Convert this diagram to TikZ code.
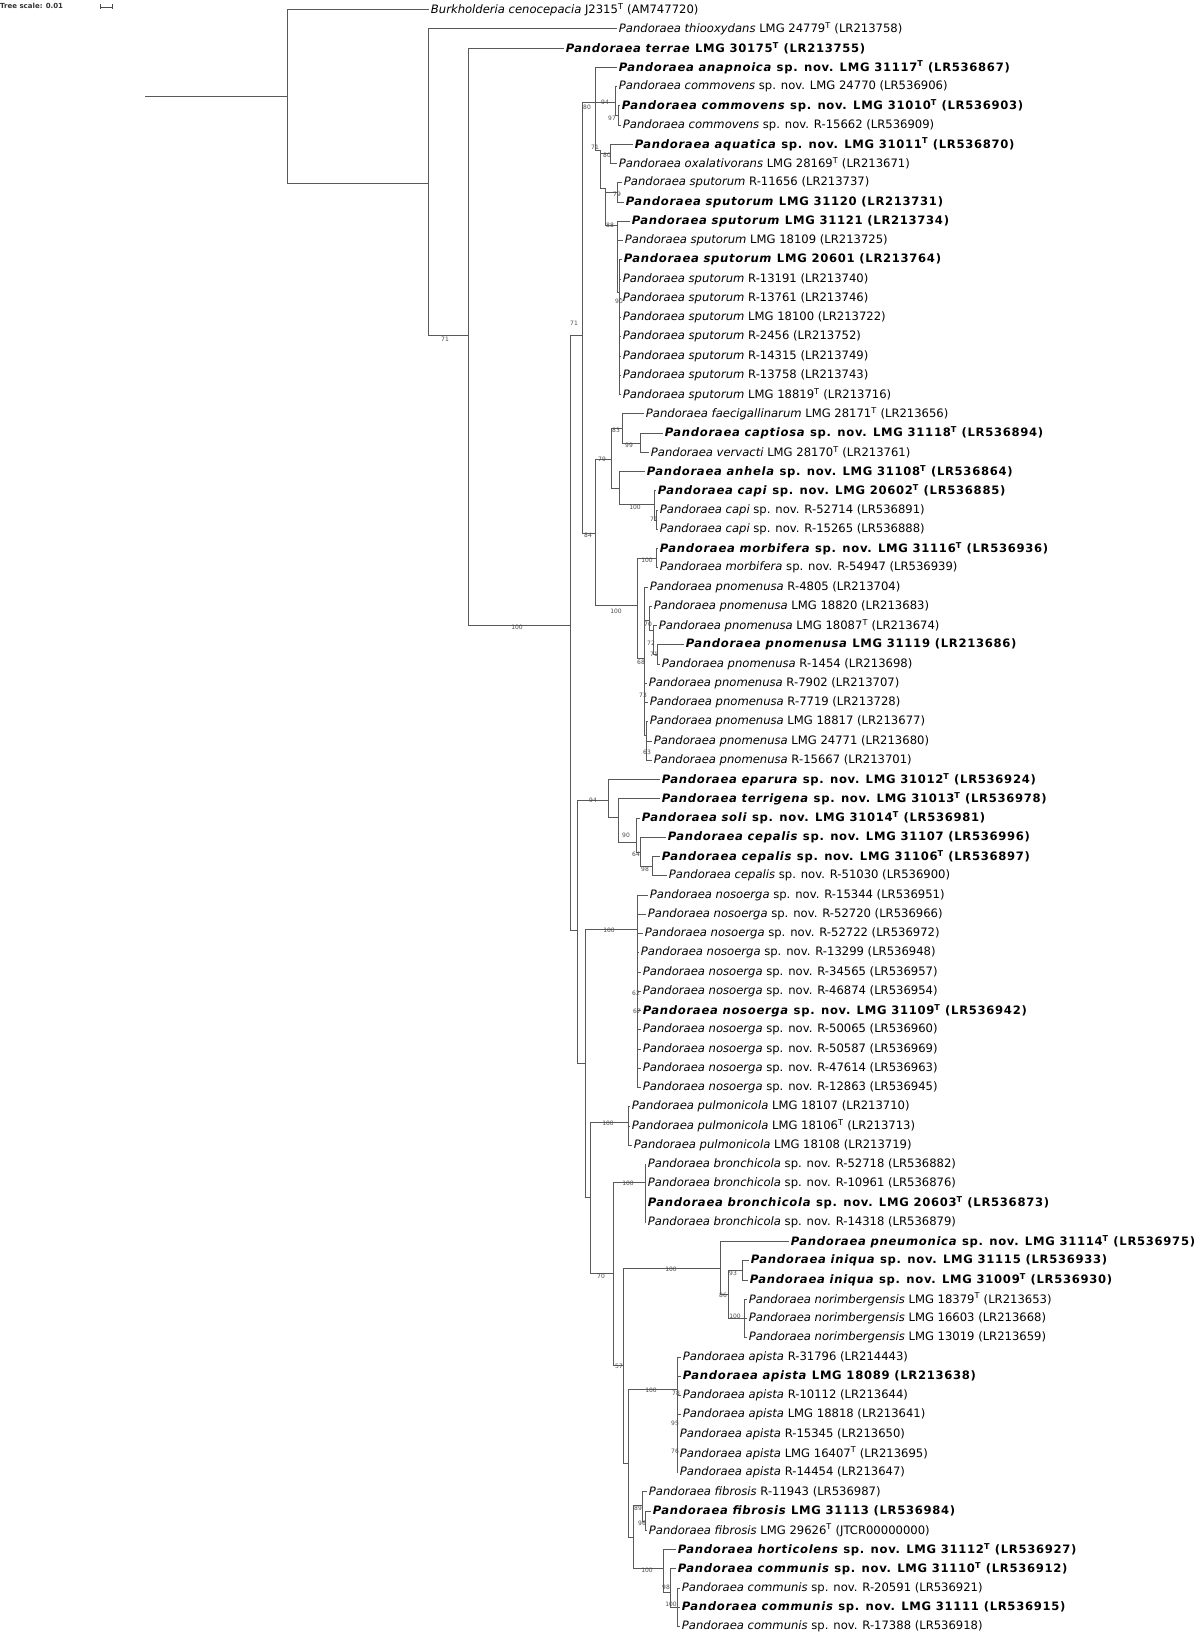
\documentclass[tikz,border=0pt]{standalone}
\usepackage{fontspec}
\setmainfont{DejaVu Sans}
\newfontfamily\bfam[LetterSpace=6]{DejaVu Sans}
\newcommand\Pn[1]{\textit{Pandoraea #1}}
\newcommand\Tt{\textsuperscript{T}}
\newcommand\BB{\bfam\bfseries}
\tikzset{br/.style={draw=black!65,line width=0.9pt},
 leaf/.style={anchor=west,inner xsep=1.5pt,inner ysep=0pt,font=\fontsize{11.6}{13}\selectfont},
 bsl/.style={inner sep=0pt,text=black!70,font=\fontsize{6}{7}\selectfont}}
\newcommand\lf[5]{\draw[br] (#3,{9.5+(#2-1)*19.25}) -- (#4,{9.5+(#2-1)*19.25}) node[leaf] (#1) {#5};}
\newcommand\nd[5]{\draw[br] (#5,#2) -- (#1,#2); \draw[br] (#1,#3) -- (#1,#4);}
\newcommand\bs[4]{\node[bsl] (#1) at (#2,#3) {#4};}
\begin{document}
\begin{tikzpicture}[x=1pt,y=-1pt]
\useasboundingbox[fill=white] (0,0) rectangle (1200,1635);
\node[anchor=west,inner sep=0pt,font=\fontsize{7}{8}\selectfont\bfseries,text=black!80] (ts) at (0,6) {Tree scale: 0.01};
\draw[black!70,line width=0.5pt] (100,7) -- (112,7) (100,4.5) -- (100,9.5) (112,4.5) -- (112,9.5);
% root
\draw[br] (145,96) -- (287,96);
\draw[br] (287,9.5) -- (287,183);
\lf{l1}{1}{287}{429}{\textit{Burkholderia cenocepacia} J2315\Tt{} (AM747720)}
\nd{428}{183}{28.75}{335}{287}
\lf{l2}{2}{428}{617}{\Pn{thiooxydans} LMG 24779\Tt{} (LR213758)}
\nd{468}{335}{48}{625}{428}
\lf{l3}{3}{468}{564}{\BB\Pn{terrae} LMG 30175\Tt{} (LR213755)}
\nd{570}{625}{335}{930}{468}
\nd{582}{335}{102}{533}{570}
\nd{595}{102}{67.25}{150}{582}
\lf{l4}{4}{595}{617}{\BB\Pn{anapnoica} sp. nov. LMG 31117\Tt{} (LR536867)}
\nd{615}{102}{86.5}{115.4}{595}
\lf{l5}{5}{615}{617}{\Pn{commovens} sp. nov. LMG 24770 (LR536906)}
\nd{618}{115.4}{105.75}{125}{615}
\lf{l6}{6}{618}{620}{\BB\Pn{commovens} sp. nov. LMG 31010\Tt{} (LR536903)}
\lf{l7}{7}{618}{621}{\Pn{commovens} sp. nov. R-15662 (LR536909)}
\nd{600}{150}{150}{188}{595}
\nd{610}{153}{144.25}{163.5}{600}
\lf{l8}{8}{610}{633}{\BB\Pn{aquatica} sp. nov. LMG 31011\Tt{} (LR536870)}
\lf{l9}{9}{610}{617}{\Pn{oxalativorans} LMG 28169\Tt{} (LR213671)}
\nd{605}{188}{188}{225}{600}
\nd{617}{192}{182.75}{202}{605}
\lf{l10}{10}{617}{622}{\Pn{sputorum} R-11656 (LR213737)}
\lf{l11}{11}{617}{624}{\BB\Pn{sputorum} LMG 31120 (LR213731)}
\nd{617}{225}{221.25}{292}{605}
\lf{l12}{12}{617}{630}{\BB\Pn{sputorum} LMG 31121 (LR213734)}
\lf{l13}{13}{617}{623}{\Pn{sputorum} LMG 18109 (LR213725)}
\nd{619}{292}{259.75}{394.5}{617}
\lf{l14}{14}{619}{622}{\BB\Pn{sputorum} LMG 20601 (LR213764)}
\lf{l15}{15}{619}{621}{\Pn{sputorum} R-13191 (LR213740)}
\lf{l16}{16}{619}{621}{\Pn{sputorum} R-13761 (LR213746)}
\lf{l17}{17}{619}{621}{\Pn{sputorum} LMG 18100 (LR213722)}
\lf{l18}{18}{619}{621}{\Pn{sputorum} R-2456 (LR213752)}
\lf{l19}{19}{619}{621}{\Pn{sputorum} R-14315 (LR213749)}
\lf{l20}{20}{619}{621}{\Pn{sputorum} R-13758 (LR213743)}
\lf{l21}{21}{619}{621}{\Pn{sputorum} LMG 18819\Tt{} (LR213716)}
\nd{595}{533}{459}{605}{582}
\nd{611}{459}{428}{488}{595}
\nd{622}{428}{413.75}{443}{611}
\lf{l22}{22}{622}{644}{\Pn{faecigallinarum} LMG 28171\Tt{} (LR213656)}
\nd{640}{443}{433}{452.25}{622}
\lf{l23}{23}{640}{663}{\BB\Pn{captiosa} sp. nov. LMG 31118\Tt{} (LR536894)}
\lf{l24}{24}{640}{649}{\Pn{vervacti} LMG 28170\Tt{} (LR213761)}
\nd{619}{488}{471.5}{504}{611}
\lf{l25}{25}{619}{645}{\BB\Pn{anhela} sp. nov. LMG 31108\Tt{} (LR536864)}
\nd{654}{504}{490.75}{520}{619}
\lf{l26}{26}{654}{656}{\BB\Pn{capi} sp. nov. LMG 20602\Tt{} (LR536885)}
\nd{656}{520}{510}{529.25}{654}
\lf{l27}{27}{656}{658}{\Pn{capi} sp. nov. R-52714 (LR536891)}
\lf{l28}{28}{656}{658}{\Pn{capi} sp. nov. R-15265 (LR536888)}
\nd{637}{605}{558}{658}{595}
\nd{656}{558}{548.5}{567.75}{637}
\lf{l29}{29}{656}{658}{\BB\Pn{morbifera} sp. nov. LMG 31116\Tt{} (LR536936)}
\lf{l30}{30}{656}{658}{\Pn{morbifera} sp. nov. R-54947 (LR536939)}
\nd{644}{658}{587}{735}{637}
\lf{l31}{31}{644}{648}{\Pn{pnomenusa} R-4805 (LR213704)}
\nd{649}{620}{606.25}{630}{644}
\lf{l32}{32}{649}{652}{\Pn{pnomenusa} LMG 18820 (LR213683)}
\nd{653}{630}{625.5}{654}{649}
\lf{l33}{33}{653}{657}{\Pn{pnomenusa} LMG 18087\Tt{} (LR213674)}
\nd{657}{654}{644.75}{664}{653}
\lf{l34}{34}{657}{684}{\BB\Pn{pnomenusa} LMG 31119 (LR213686)}
\lf{l35}{35}{657}{660}{\Pn{pnomenusa} R-1454 (LR213698)}
\lf{l36}{36}{644}{647}{\Pn{pnomenusa} R-7902 (LR213707)}
\lf{l37}{37}{644}{648}{\Pn{pnomenusa} R-7719 (LR213728)}
\nd{646}{735}{721.75}{760.25}{644}
\lf{l38}{38}{646}{648}{\Pn{pnomenusa} LMG 18817 (LR213677)}
\lf{l39}{39}{646}{652}{\Pn{pnomenusa} LMG 24771 (LR213680)}
\lf{l40}{40}{646}{652}{\Pn{pnomenusa} R-15667 (LR213701)}
\nd{577}{930}{800}{1063}{570}
\nd{608}{800}{779.5}{817}{577}
\lf{l41}{41}{608}{660}{\BB\Pn{eparura} sp. nov. LMG 31012\Tt{} (LR536924)}
\nd{618}{817}{798.75}{842}{608}
\lf{l42}{42}{618}{660}{\BB\Pn{terrigena} sp. nov. LMG 31013\Tt{} (LR536978)}
\nd{636}{842}{818}{852}{618}
\lf{l43}{43}{636}{640}{\BB\Pn{soli} sp. nov. LMG 31014\Tt{} (LR536981)}
\nd{640}{852}{837.25}{866}{636}
\lf{l44}{44}{640}{666}{\BB\Pn{cepalis} sp. nov. LMG 31107 (LR536996)}
\nd{652}{866}{856.5}{875.75}{640}
\lf{l45}{45}{652}{660}{\BB\Pn{cepalis} sp. nov. LMG 31106\Tt{} (LR536897)}
\lf{l46}{46}{652}{667}{\Pn{cepalis} sp. nov. R-51030 (LR536900)}
\nd{585}{1063}{929}{1197}{577}
\nd{637}{929}{895}{1087.5}{585}
\lf{l47}{47}{637}{648}{\Pn{nosoerga} sp. nov. R-15344 (LR536951)}
\lf{l48}{48}{637}{646}{\Pn{nosoerga} sp. nov. R-52720 (LR536966)}
\lf{l49}{49}{637}{643}{\Pn{nosoerga} sp. nov. R-52722 (LR536972)}
\lf{l50}{50}{637}{639}{\Pn{nosoerga} sp. nov. R-13299 (LR536948)}
\lf{l51}{51}{637}{641}{\Pn{nosoerga} sp. nov. R-34565 (LR536957)}
\lf{l52}{52}{637}{641}{\Pn{nosoerga} sp. nov. R-46874 (LR536954)}
\lf{l53}{53}{637}{641}{\BB\Pn{nosoerga} sp. nov. LMG 31109\Tt{} (LR536942)}
\lf{l54}{54}{637}{641}{\Pn{nosoerga} sp. nov. R-50065 (LR536960)}
\lf{l55}{55}{637}{641}{\Pn{nosoerga} sp. nov. R-50587 (LR536969)}
\lf{l56}{56}{637}{641}{\Pn{nosoerga} sp. nov. R-47614 (LR536963)}
\lf{l57}{57}{637}{641}{\Pn{nosoerga} sp. nov. R-12863 (LR536945)}
\nd{590}{1197}{1122}{1273}{585}
\nd{628}{1122}{1106.75}{1145.25}{590}
\lf{l58}{58}{628}{630}{\Pn{pulmonicola} LMG 18107 (LR213710)}
\lf{l59}{59}{628}{630}{\Pn{pulmonicola} LMG 18106\Tt{} (LR213713)}
\lf{l60}{60}{628}{632}{\Pn{pulmonicola} LMG 18108 (LR213719)}
\nd{613}{1273}{1182}{1365}{590}
\nd{645}{1182}{1164.5}{1222.25}{613}
\lf{l61}{61}{645}{646}{\Pn{bronchicola} sp. nov. R-52718 (LR536882)}
\lf{l62}{62}{645}{646}{\Pn{bronchicola} sp. nov. R-10961 (LR536876)}
\lf{l63}{63}{645}{646}{\BB\Pn{bronchicola} sp. nov. LMG 20603\Tt{} (LR536873)}
\lf{l64}{64}{645}{646}{\Pn{bronchicola} sp. nov. R-14318 (LR536879)}
\nd{623}{1365}{1268}{1463}{613}
\nd{720}{1268}{1241.5}{1294}{623}
\lf{l65}{65}{720}{789}{\BB\Pn{pneumonica} sp. nov. LMG 31114\Tt{} (LR536975)}
\nd{728}{1294}{1270}{1318.5}{720}
\nd{742}{1270}{1260.75}{1280}{728}
\lf{l66}{66}{742}{749}{\BB\Pn{iniqua} sp. nov. LMG 31115 (LR536933)}
\lf{l67}{67}{742}{748}{\BB\Pn{iniqua} sp. nov. LMG 31009\Tt{} (LR536930)}
\nd{744}{1318.5}{1299.25}{1337.75}{728}
\lf{l68}{68}{744}{747}{\Pn{norimbergensis} LMG 18379\Tt{} (LR213653)}
\lf{l69}{69}{744}{747}{\Pn{norimbergensis} LMG 16603 (LR213668)}
\lf{l70}{70}{744}{747}{\Pn{norimbergensis} LMG 13019 (LR213659)}
\nd{628}{1463}{1389}{1537}{623}
\nd{677}{1389}{1357}{1472.5}{628}
\lf{l71}{71}{677}{681}{\Pn{apista} R-31796 (LR214443)}
\lf{l72}{72}{677}{681}{\BB\Pn{apista} LMG 18089 (LR213638)}
\lf{l73}{73}{677}{681}{\Pn{apista} R-10112 (LR213644)}
\lf{l74}{74}{677}{681}{\Pn{apista} LMG 18818 (LR213641)}
\lf{l75}{75}{677}{678}{\Pn{apista} R-15345 (LR213650)}
\lf{l76}{76}{677}{678}{\Pn{apista} LMG 16407\Tt{} (LR213695)}
\lf{l77}{77}{677}{678}{\Pn{apista} R-14454 (LR213647)}
\nd{633}{1537}{1505}{1568}{628}
\nd{642}{1505}{1491.75}{1521}{633}
\lf{l78}{78}{642}{647}{\Pn{fibrosis} R-11943 (LR536987)}
\nd{645}{1521}{1511}{1530.25}{642}
\lf{l79}{79}{645}{651}{\BB\Pn{fibrosis} LMG 31113 (LR536984)}
\lf{l80}{80}{645}{647}{\Pn{fibrosis} LMG 29626\Tt{} (JTCR00000000)}
\nd{663}{1568}{1549.5}{1592}{633}
\lf{l81}{81}{663}{676}{\BB\Pn{horticolens} sp. nov. LMG 31112\Tt{} (LR536927)}
\nd{670}{1592}{1568.75}{1607}{663}
\lf{l82}{82}{670}{676}{\BB\Pn{communis} sp. nov. LMG 31110\Tt{} (LR536912)}
\nd{677}{1607}{1588}{1626.5}{670}
\lf{l83}{83}{677}{680}{\Pn{communis} sp. nov. R-20591 (LR536921)}
\lf{l84}{84}{677}{680}{\BB\Pn{communis} sp. nov. LMG 31111 (LR536915)}
\lf{l85}{85}{677}{680}{\Pn{communis} sp. nov. R-17388 (LR536918)}
% bootstrap values
\bs{b1}{445}{339}{71}
\bs{b2}{517}{627}{100}
\bs{b3}{574}{323}{71}
\bs{b4}{587}{107}{80}
\bs{b5}{605}{102}{94}
\bs{b6}{612}{118}{97}
\bs{b7}{595}{147}{71}
\bs{b8}{607}{155}{80}
\bs{b9}{617}{194}{79}
\bs{b10}{610}{225}{88}
\bs{b11}{619}{301}{90}
\bs{b12}{616}{430}{83}
\bs{b13}{629}{445}{99}
\bs{b14}{602}{459}{79}
\bs{b15}{588}{535}{84}
\bs{b16}{635}{507}{100}
\bs{b17}{654}{519}{71}
\bs{b18}{647}{560}{100}
\bs{b19}{616}{611}{100}
\bs{b20}{648}{624}{70}
\bs{b21}{651}{643}{72}
\bs{b22}{654}{654}{71}
\bs{b23}{641}{662}{68}
\bs{b24}{643}{695}{73}
\bs{b25}{647}{752}{63}
\bs{b26}{593}{800}{94}
\bs{b27}{626}{835}{90}
\bs{b28}{636}{854}{64}
\bs{b29}{645}{869}{98}
\bs{b30}{609}{930}{100}
\bs{b31}{636}{993}{62}
\bs{b32}{637}{1011}{67}
\bs{b33}{608}{1123}{100}
\bs{b34}{628}{1183}{100}
\bs{b35}{671}{1269}{100}
\bs{b36}{733}{1273}{93}
\bs{b37}{601}{1276}{70}
\bs{b38}{723}{1295}{86}
\bs{b39}{735}{1316}{100}
\bs{b40}{619}{1366}{57}
\bs{b41}{651}{1390}{100}
\bs{b42}{676}{1393}{78}
\bs{b43}{675}{1423}{95}
\bs{b44}{675}{1451}{76}
\bs{b45}{638}{1508}{89}
\bs{b46}{642}{1523}{96}
\bs{b47}{647}{1570}{100}
\bs{b48}{666}{1587}{98}
\bs{b49}{671}{1604}{100}
\end{tikzpicture}
\end{document}
